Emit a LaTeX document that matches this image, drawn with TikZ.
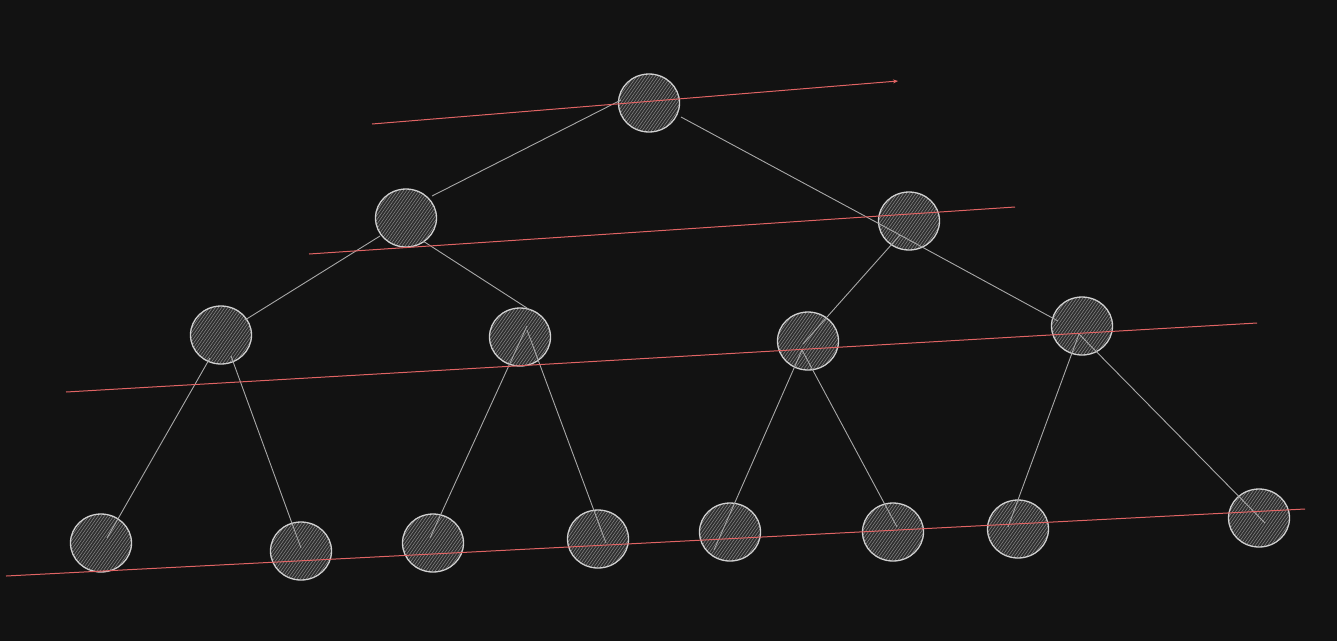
\documentclass[tikz,border=0pt]{standalone}
\usetikzlibrary{shapes.geometric,arrows.meta,calc}
\definecolor{bg}{HTML}{121212}
\definecolor{edge}{HTML}{A8A8A8}
\definecolor{rim}{HTML}{D0D0D0}
\definecolor{hfill}{HTML}{2E2E2E}
\definecolor{hline}{HTML}{858585}
\definecolor{redl}{HTML}{E06464}
\tikzset{
  tnode/.style={ellipse, draw=rim, line width=1.3pt, fill=hfill,
    minimum width=61pt, minimum height=58pt, inner sep=0pt,
    path picture={
      \foreach \i in {-28,...,28}{
        \draw[hline, line width=0.55pt]
          ([xshift=\i*3.1pt]path picture bounding box.center) ++(-35pt,-50pt) -- ++(70pt,100pt);
      }
    }},
  conn/.style={edge, line width=0.9pt},
  level/.style={redl, line width=1pt},
}
\begin{document}
\begin{tikzpicture}[x=1pt,y=-1pt]
\fill[bg] (0,0) rectangle (1337,641);
\useasboundingbox (0,0) rectangle (1337,641);
% nodes
\node[tnode] (r)   at (649,103) {};
\node[tnode] (a)   at (406,218) {};
\node[tnode] (b)   at (909,221) {};
\node[tnode] (aa)  at (221,335) {};
\node[tnode] (ab)  at (520,337) {};
\node[tnode] (ba)  at (808,341) {};
\node[tnode] (bb)  at (1082,326) {};
\node[tnode] (aaa) at (101,543) {};
\node[tnode] (aab) at (301,551) {};
\node[tnode] (aba) at (433,543) {};
\node[tnode] (abb) at (598,539) {};
\node[tnode] (baa) at (730,532) {};
\node[tnode] (bab) at (893,532) {};
\node[tnode] (bba) at (1018,529) {};
\node[tnode] (bbb) at (1259,518) {};
% connector end points
\coordinate (r-l)   at (621,100);
\coordinate (a-r)   at (432,196);
\coordinate (r-r)   at (681,117);
\coordinate (b-c)   at (900,235);
\coordinate (a-ll)  at (380,236);
\coordinate (aa-u)  at (245,320);
\coordinate (a-rr)  at (423,241);
\coordinate (ab-u)  at (530,310);
\coordinate (ba-c)  at (803,344);
\coordinate (bb-u)  at (1058,321);
\coordinate (aa-d1) at (210,358);
\coordinate (aaa-c) at (107,538);
\coordinate (aa-d2) at (231,356);
\coordinate (aab-c) at (301,548);
\coordinate (ab-d1) at (527,326);
\coordinate (aba-c) at (430,538);
\coordinate (ab-d2) at (527,330);
\coordinate (abb-c) at (606,543);
\coordinate (ba-d)  at (802,350);
\coordinate (baa-c) at (714,550);
\coordinate (bab-c) at (897,527);
\coordinate (bb-d)  at (1079,334);
\coordinate (bba-c) at (1008,527);
\coordinate (bbb-c) at (1265,523);
% connectors
\draw[conn] (r-l) -- (a-r);
\draw[conn] (r-r) -- (b-c);
\draw[conn] (a-ll) -- (aa-u);
\draw[conn] (a-rr) -- (ab-u);
\draw[conn] (b-c) -- (ba-c);
\draw[conn] (b-c) -- (bb-u);
\draw[conn] (aa-d1) -- (aaa-c);
\draw[conn] (aa-d2) -- (aab-c);
\draw[conn] (ab-d1) -- (aba-c);
\draw[conn] (ab-d2) -- (abb-c);
\draw[conn] (ba-d) -- (baa-c);
\draw[conn] (ba-d) -- (bab-c);
\draw[conn] (bb-d) -- (bba-c);
\draw[conn] (bb-d) -- (bbb-c);
% level lines
\coordinate (l0a) at (372,124); \coordinate (l0b) at (898,81);
\coordinate (l1a) at (309,254); \coordinate (l1b) at (1015,207);
\coordinate (l2a) at (66,392);  \coordinate (l2b) at (1257,323);
\coordinate (l3a) at (6,576);   \coordinate (l3b) at (1305,509);
\draw[level, -{Stealth[length=5pt,width=4pt]}] (l0a) -- (l0b);
\draw[level] (l1a) -- (l1b);
\draw[level] (l2a) -- (l2b);
\draw[level] (l3a) -- (l3b);
\end{tikzpicture}
\end{document}
